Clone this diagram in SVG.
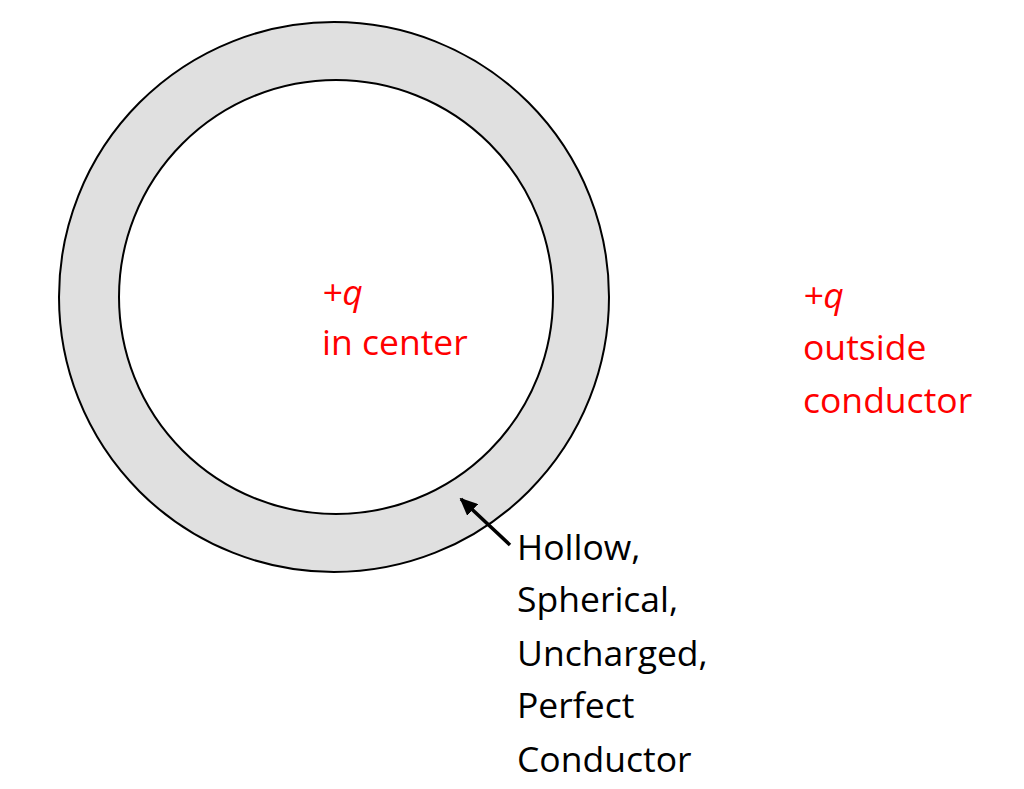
<svg xmlns="http://www.w3.org/2000/svg" width="1024" height="789" viewBox="0 0 1024 789">
<style>
.t{font-family:"Open Sans","Liberation Sans",sans-serif;font-size:35.5px}
.r{fill:#ff0000}
.k{fill:#000}
</style>
<defs><marker id="a" markerWidth="18" markerHeight="16" refX="16" refY="8" orient="auto" markerUnits="userSpaceOnUse"><path d="M0,0L18,8L0,16z" fill="#000"/></marker></defs>
<rect width="1024" height="789" fill="#fff"/>
<g id="shell">
<circle cx="334" cy="297" r="275" fill="#e0e0e0" stroke="#000" stroke-width="2"/>
<circle cx="336" cy="297" r="217" fill="#fff" stroke="#000" stroke-width="2"/>
</g>
<g id="q-center"><text class="t r" x="322" y="305"><tspan font-style="italic">+q</tspan></text><text class="t r" x="322" y="355">in center</text></g>
<g id="q-outside"><text class="t r" x="803" y="308"><tspan font-style="italic">+q</tspan></text><text class="t r" x="803" y="360">outside</text><text class="t r" x="803" y="413">conductor</text></g>
<g id="label"><text class="t k" x="517" y="560">Hollow,</text><text class="t k" x="517" y="612">Spherical,</text><text class="t k" x="517" y="666">Uncharged,</text><text class="t k" x="517" y="718">Perfect</text><text class="t k" x="517" y="772">Conductor</text></g>
<g id="connectors"><line x1="510" y1="545" x2="461" y2="499" stroke="#000" stroke-width="3.5" marker-end="url(#a)"/></g>
</svg>
